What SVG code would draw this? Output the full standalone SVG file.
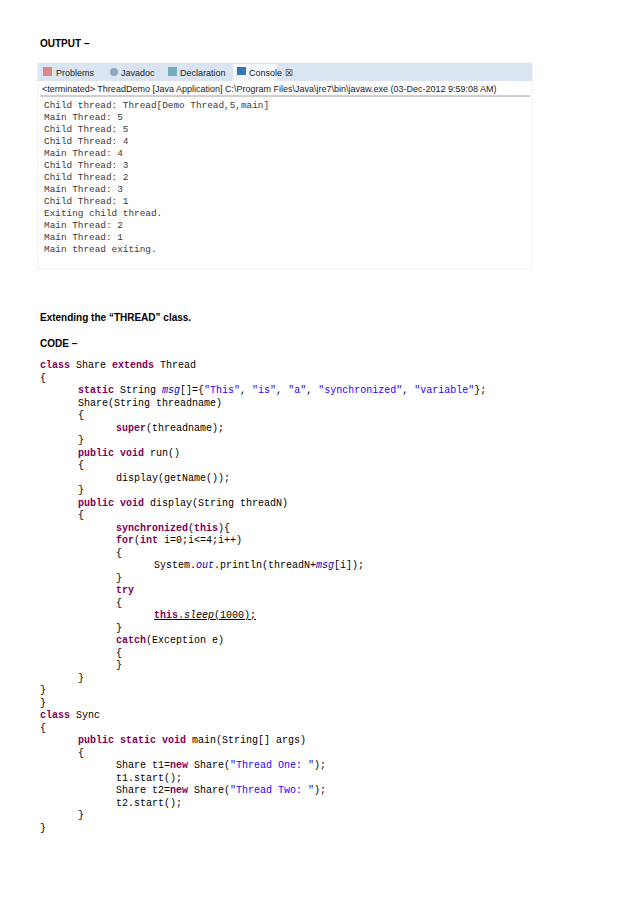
<svg xmlns="http://www.w3.org/2000/svg" width="638" height="903" viewBox="0 0 638 903">
<style>
.h{font-family:"Liberation Sans",Arial,sans-serif;font-size:10px;font-weight:bold;fill:#000}
.c{font-family:"Liberation Mono","DejaVu Sans Mono",monospace;font-size:10px;fill:#000;white-space:pre}
.k{fill:#7f0055;font-weight:bold}
.s{fill:#2a00ff}
.f{fill:#0000c0;font-style:italic}
.o{font-family:"Liberation Mono","DejaVu Sans Mono",monospace;font-size:9.4px;fill:#3a3a3a;white-space:pre}
.t{font-family:"Liberation Sans",Arial,sans-serif;font-size:9px;fill:#222}
</style>
<rect width="638" height="903" fill="#fff"/>
<text class="h" x="40" y="47">OUTPUT –</text>
<g id="screenshot">
<rect x="38" y="63" width="494" height="206" fill="#fff" stroke="#eee"/>
<rect x="38" y="63" width="494" height="18" fill="#dbe5f1"/>
<rect x="233" y="64" width="44" height="17" fill="#f4f7fb"/>
<rect x="43" y="67" width="9" height="9" fill="#d88"/>
<circle cx="114" cy="72" r="4" fill="#8ab"/>
<rect x="168" y="67" width="9" height="9" fill="#7ab"/>
<rect x="237" y="67" width="9" height="8" fill="#3a73b8"/>
<text class="t" x="56" y="76">Problems</text>
<text class="t" x="121" y="76">Javadoc</text>
<text class="t" x="180" y="76">Declaration</text>
<text class="t" x="249" y="76">Console ☒</text>
<text class="t" x="42" y="92" font-size="8.6">&lt;terminated&gt; ThreadDemo [Java Application] C:\Program Files\Java\jre7\bin\javaw.exe (03-Dec-2012 9:59:08 AM)</text>
<line x1="40" y1="96" x2="530" y2="96" stroke="#888" stroke-width="0.8"/>
<text class="o" x="44" y="108">Child thread: Thread[Demo Thread,5,main]</text>
<text class="o" x="44" y="120">Main Thread: 5</text>
<text class="o" x="44" y="132">Child Thread: 5</text>
<text class="o" x="44" y="144">Child Thread: 4</text>
<text class="o" x="44" y="156">Main Thread: 4</text>
<text class="o" x="44" y="168">Child Thread: 3</text>
<text class="o" x="44" y="180">Child Thread: 2</text>
<text class="o" x="44" y="192">Main Thread: 3</text>
<text class="o" x="44" y="204">Child Thread: 1</text>
<text class="o" x="44" y="216">Exiting child thread.</text>
<text class="o" x="44" y="228">Main Thread: 2</text>
<text class="o" x="44" y="240">Main Thread: 1</text>
<text class="o" x="44" y="252">Main thread exiting.</text>
</g>
<text class="h" x="40" y="321">Extending the “THREAD” class.</text>
<text class="h" x="40" y="347">CODE –</text>
<g id="code">
<text class="c" x="40" y="368"><tspan class="k">class</tspan> Share <tspan class="k">extends</tspan> Thread</text>
<text class="c" x="40" y="380.5">{</text>
<text class="c" x="78" y="393"><tspan class="k">static</tspan> String <tspan class="f">msg</tspan>[]={<tspan class="s">"This"</tspan>, <tspan class="s">"is"</tspan>, <tspan class="s">"a"</tspan>, <tspan class="s">"synchronized"</tspan>, <tspan class="s">"variable"</tspan>};</text>
<text class="c" x="78" y="405.5">Share(String threadname)</text>
<text class="c" x="78" y="418">{</text>
<text class="c" x="116" y="430.5"><tspan class="k">super</tspan>(threadname);</text>
<text class="c" x="78" y="443">}</text>
<text class="c" x="78" y="455.5"><tspan class="k">public</tspan> <tspan class="k">void</tspan> run()</text>
<text class="c" x="78" y="468">{</text>
<text class="c" x="116" y="480.5">display(getName());</text>
<text class="c" x="78" y="493">}</text>
<text class="c" x="78" y="505.5"><tspan class="k">public</tspan> <tspan class="k">void</tspan> display(String threadN)</text>
<text class="c" x="78" y="518">{</text>
<text class="c" x="116" y="530.5"><tspan class="k">synchronized</tspan>(<tspan class="k">this</tspan>){</text>
<text class="c" x="116" y="543"><tspan class="k">for</tspan>(<tspan class="k">int</tspan> i=0;i&lt;=4;i++)</text>
<text class="c" x="116" y="555.5">{</text>
<text class="c" x="154" y="568">System.<tspan class="f">out</tspan>.println(threadN+<tspan class="f">msg</tspan>[i]);</text>
<text class="c" x="116" y="580.5">}</text>
<text class="c" x="116" y="593"><tspan class="k">try</tspan></text>
<text class="c" x="116" y="605.5">{</text>
<text class="c" x="154" y="618" text-decoration="underline"><tspan class="k">this</tspan>.<tspan font-style="italic">sleep</tspan>(1000);</text>
<text class="c" x="116" y="630.5">}</text>
<text class="c" x="116" y="643"><tspan class="k">catch</tspan>(Exception e)</text>
<text class="c" x="116" y="655.5">{</text>
<text class="c" x="116" y="668">}</text>
<text class="c" x="78" y="680.5">}</text>
<text class="c" x="40" y="693">}</text>
<text class="c" x="40" y="705.5">}</text>
<text class="c" x="40" y="718"><tspan class="k">class</tspan> Sync</text>
<text class="c" x="40" y="730.5">{</text>
<text class="c" x="78" y="743"><tspan class="k">public</tspan> <tspan class="k">static</tspan> <tspan class="k">void</tspan> main(String[] args)</text>
<text class="c" x="78" y="755.5">{</text>
<text class="c" x="116" y="768">Share t1=<tspan class="k">new</tspan> Share(<tspan class="s">"Thread One: "</tspan>);</text>
<text class="c" x="116" y="780.5">t1.start();</text>
<text class="c" x="116" y="793">Share t2=<tspan class="k">new</tspan> Share(<tspan class="s">"Thread Two: "</tspan>);</text>
<text class="c" x="116" y="805.5">t2.start();</text>
<text class="c" x="78" y="818">}</text>
<text class="c" x="40" y="830.5">}</text>
</g>
</svg>
